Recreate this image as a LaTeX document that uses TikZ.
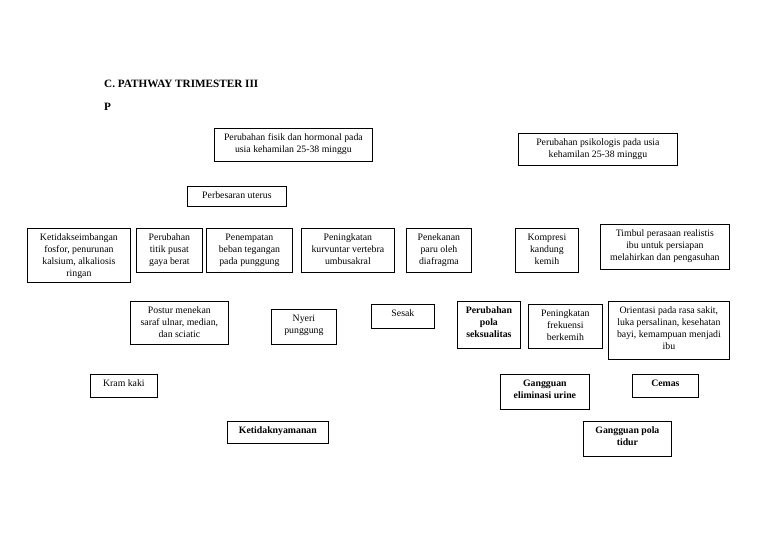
\documentclass[tikz,border=0pt]{standalone}
\usepackage{fontspec}
\setmainfont{Liberation Serif}
\tikzset{
  boxst/.style={draw=black, line width=0.8pt, inner sep=0pt, anchor=north west, font=\fontsize{9.8}{12}\selectfont},
  boldbox/.style={boxst, font=\fontsize{9.8}{12}\selectfont\bfseries},
}
\newcommand\mybox[7]{\node[#1] (#2) at (#3,#4) {\parbox[c][#6pt][t]{#5pt}{\centering\vspace*{5.5pt}#7\par}};}
\begin{document}
\begin{tikzpicture}[x=1pt,y=-1pt]
\useasboundingbox (0,0) rectangle (768,543);
\fill[white] (0,0) rectangle (768,543);
\node[anchor=base west, font=\fontsize{11.2}{13}\selectfont\bfseries, inner sep=0pt] (title) at (104,88) {C. PATHWAY TRIMESTER III};
\node[anchor=base west, font=\fontsize{11.2}{13}\selectfont\bfseries, inner sep=0pt] (ptext) at (104,110) {P};
% row 1
\mybox{boxst}{fisik}{214}{128}{158}{33}{Perubahan fisik dan hormonal pada\\usia kehamilan 25-38 minggu}
\mybox{boxst}{psiko}{518}{133}{159}{32}{Perubahan psikologis pada usia\\kehamilan 25-38 minggu}
\mybox{boxst}{uterus}{187}{186}{99}{20}{Perbesaran uterus}
% row 2
\mybox{boxst}{fosfor}{27}{228}{103}{54}{Ketidakseimbangan\\fosfor, penurunan\\kalsium, alkaliosis\\ringan}
\mybox{boxst}{titik}{136}{228}{66}{44}{Perubahan\\titik pusat\\gaya berat}
\mybox{boxst}{beban}{206}{228}{86}{44}{Penempatan\\beban tegangan\\pada punggung}
\mybox{boxst}{kurva}{301}{228}{93}{44}{Peningkatan\\kurvuntar vertebra\\umbusakral}
\mybox{boxst}{paru}{406}{228}{65}{44}{Penekanan\\paru oleh\\diafragma}
\mybox{boxst}{kandung}{515}{228}{63}{44}{Kompresi\\kandung\\kemih}
\mybox{boxst}{timbul}{600}{224}{129}{45}{Timbul perasaan realistis\\ibu untuk persiapan\\melahirkan dan pengasuhan}
% row 3
\mybox{boxst}{postur}{130}{301}{98}{43}{Postur menekan\\saraf ulnar, median,\\dan sciatic}
\mybox{boxst}{nyeri}{271}{309}{65}{35}{Nyeri\\punggung}
\mybox{boxst}{sesak}{371}{304}{63}{24}{Sesak}
\mybox{boldbox}{seks}{457}{301}{63}{47}{Perubahan\\pola\\seksualitas}
\mybox{boxst}{frek}{528}{304}{74}{44}{Peningkatan\\frekuensi\\berkemih}
\mybox{boxst}{orient}{608}{301}{121}{58}{Orientasi pada rasa sakit,\\luka persalinan, kesehatan\\bayi, kemampuan menjadi\\ibu}
% row 4
\mybox{boxst}{kram}{90}{374}{67}{23}{Kram kaki}
\mybox{boldbox}{elim}{500}{374}{89}{35}{Gangguan\\eliminasi urine}
\mybox{boldbox}{cemas}{632}{374}{66}{23}{Cemas}
% row 5
\mybox{boldbox}{nyaman}{227}{421}{101}{22}{Ketidaknyamanan}
\mybox{boldbox}{tidur}{583}{421}{88}{35}{Gangguan pola\\tidur}
\end{tikzpicture}
\end{document}
